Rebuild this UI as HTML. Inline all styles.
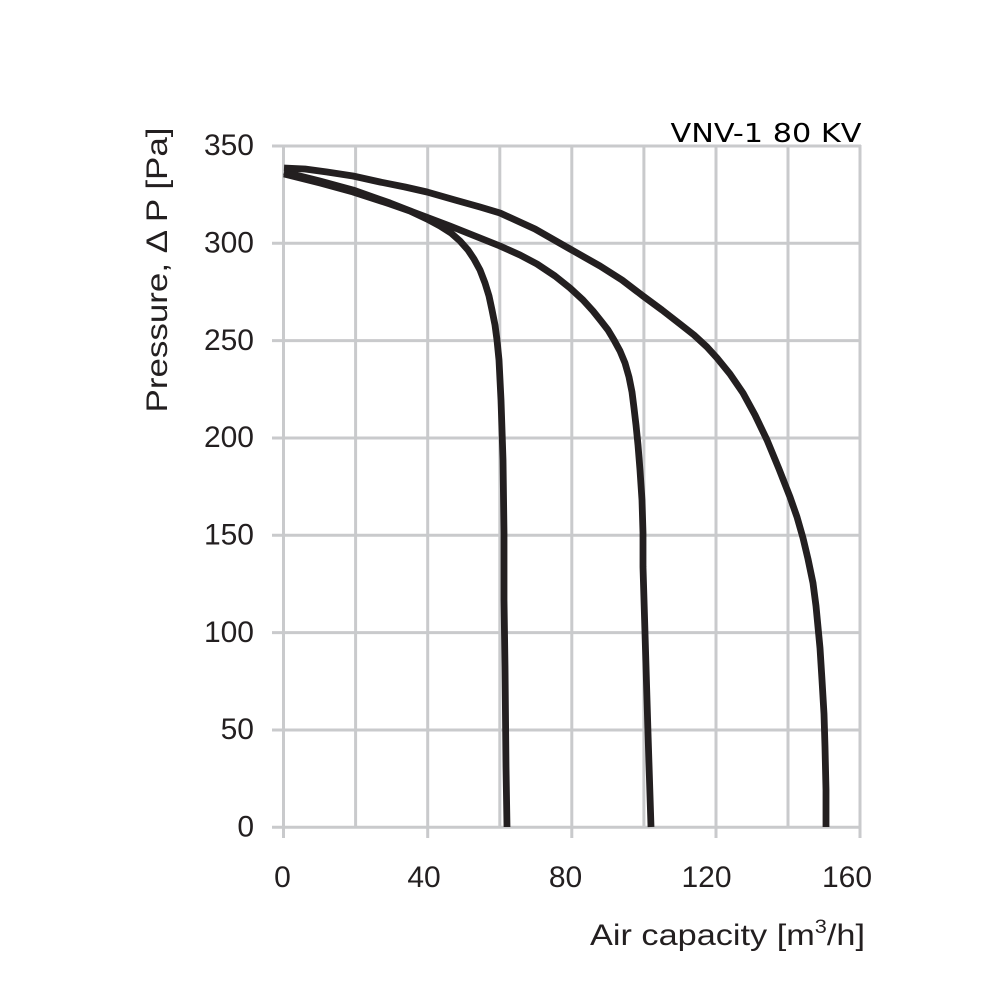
<!DOCTYPE html>
<html>
<head>
<meta charset="utf-8">
<style>
html,body{margin:0;padding:0;background:#fff;}
svg{display:block;}
text{font-family:"Liberation Sans","DejaVu Sans",sans-serif;fill:#231f20;}
</style>
</head>
<body>
<svg width="1000" height="1000" viewBox="0 0 1000 1000" xmlns="http://www.w3.org/2000/svg">
<rect width="1000" height="1000" fill="#fff"/>
<g stroke="#c9cacc" stroke-width="3" fill="none">
  <line x1="272" y1="146" x2="861" y2="146"/>
  <line x1="272" y1="243.3" x2="861" y2="243.3"/>
  <line x1="272" y1="340.6" x2="861" y2="340.6"/>
  <line x1="272" y1="438" x2="861" y2="438"/>
  <line x1="272" y1="535.3" x2="861" y2="535.3"/>
  <line x1="272" y1="632.6" x2="861" y2="632.6"/>
  <line x1="272" y1="730" x2="861" y2="730"/>
  <line x1="272" y1="827.3" x2="861" y2="827.3"/>
  <line x1="283.5" y1="145" x2="283.5" y2="838"/>
  <line x1="355.6" y1="145" x2="355.6" y2="828"/>
  <line x1="427.7" y1="145" x2="427.7" y2="838"/>
  <line x1="499.8" y1="145" x2="499.8" y2="828"/>
  <line x1="571.8" y1="145" x2="571.8" y2="838"/>
  <line x1="643.9" y1="145" x2="643.9" y2="828"/>
  <line x1="716" y1="145" x2="716" y2="838"/>
  <line x1="788" y1="145" x2="788" y2="828"/>
  <line x1="860" y1="145" x2="860" y2="838"/>
</g>

<g stroke="#231f20" stroke-width="6.8" fill="none" stroke-linejoin="round" stroke-linecap="butt">
  <!-- Curve A -->
  <polyline points="284,174 320,183 353,192 390,204 410,211 427,219 440,226 451,233 460,241 468,250 474,259 480,270 485,283 489,296 492,310 495,325 497,340 499,360 501,400 503,460 504,533 504,600 505,667 506,767 507,827"/>
  <!-- Curve B -->
  <polyline points="284,172 320,181 353,190 390,203 413,212 450,226 480,238 500,246 520,255 537,264 555,276 570,288 583,300 593,311 601,321 608,330 614,340 620,351 625,363 629,377 632,392 634,408 636,425 638,445 640,470 642,500 643,533 643,567 645,633 647,700 648,733 651,827"/>
  <!-- Curve C -->
  <polyline points="284,168 305,169 327,172 353,176 380,182 405,187 427,192 455,200 480,207 500,213 535,229 570,249 600,266 622,280 643,296 662,310 680,324 694,335 707,347 717,358 730,374 743,393 755,415 767,440 779,469 790,497 797,517 803,538 808,559 813,583 816,606 818,627 820,648 822,680 824,714 825,747 826,790 826,827"/>
</g>

<g font-size="30" text-anchor="end">
  <text x="254" y="155">350</text>
  <text x="254" y="252.5">300</text>
  <text x="254" y="350">250</text>
  <text x="254" y="447">200</text>
  <text x="254" y="544.5">150</text>
  <text x="254" y="642">100</text>
  <text x="254" y="739">50</text>
  <text x="254" y="836.5">0</text>
</g>

<g font-size="30" text-anchor="middle">
  <text x="282.5" y="887">0</text>
  <text x="424" y="887">40</text>
  <text x="565.5" y="887">80</text>
  <text x="706.5" y="887">120</text>
  <text x="847" y="887">160</text>
</g>

<text x="590" y="945" font-size="30" textLength="275" lengthAdjust="spacingAndGlyphs">Air capacity [m<tspan font-size="19" dy="-12">3</tspan><tspan dy="12">/h]</tspan></text>

<text transform="translate(167,270) rotate(-90)" font-size="30" text-anchor="middle" textLength="285" lengthAdjust="spacingAndGlyphs">Pressure, Δ P [Pa]</text>

<text x="670.5" y="142" font-size="26" style="font-family:'DejaVu Sans',sans-serif;fill:#000" textLength="191" lengthAdjust="spacingAndGlyphs">VNV-1 80 KV</text>
</svg>
</body>
</html>
